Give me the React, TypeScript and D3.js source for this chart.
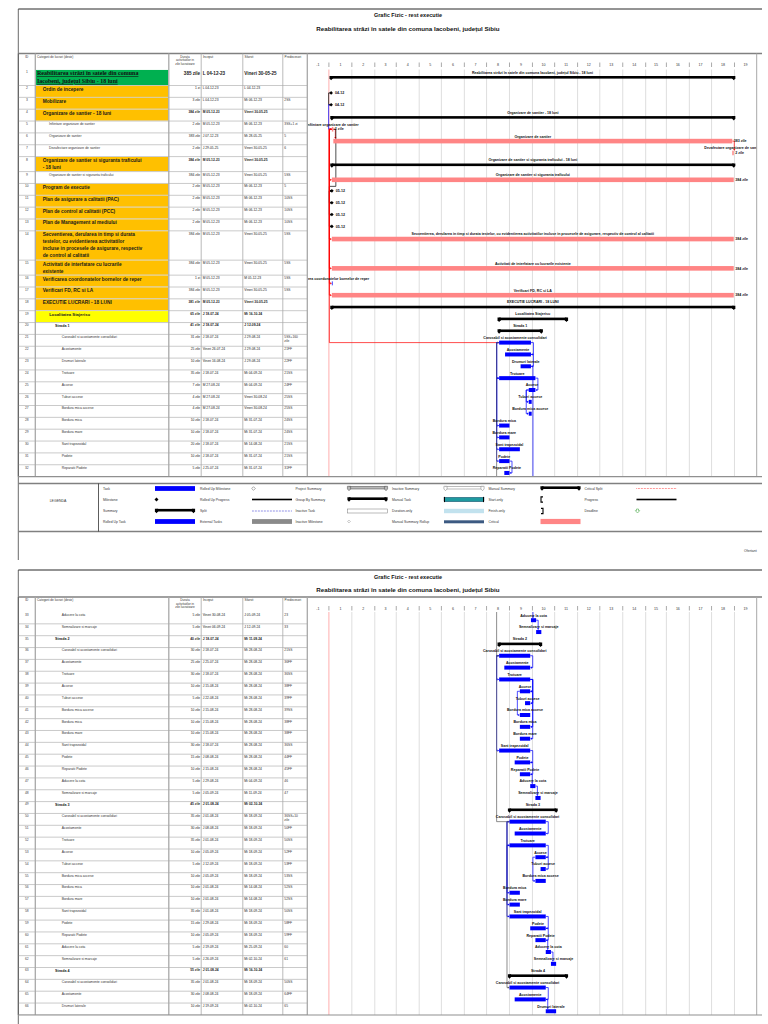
import { Fragment } from "react";
import * as d3 from "d3";

const SANS = "'Liberation Sans', Arial, sans-serif";
const SERIF = "'Liberation Serif', 'Times New Roman', serif";

const TITLE = "Grafic Fizic - rest executie";
const SUBTITLE = "Reabilitarea străzi în satele din comuna Iacobeni, județul Sibiu";
const FOOTER = "Ofertant";

const monthLabels = ["-1", "1", "2", "3", "4", "5", "6", "7", "8", "9", "10", "11", "12", "13", "14", "15", "16", "17", "18", "19"];

const colHeaders = ["ID", "Categorii de lucrari (deviz)", "Durata|activitatilor in|zile lucratoare", "Inceput", "Sfarsit", "Predecesori"];

// [ID, name ("|" = line break), durata, inceput, sfarsit, predecesori, stil]
// stil: fundal (g verde, o portocaliu, y galben, w alb) + bara (S sumar, M reper, C critic, T activitate)
const page1Rows = [
  ["1", "Reabilitarea străzi în satele din comuna|Iacobeni, județul Sibiu - 18 luni", "385 zile", "L 04-12-23", "Vineri 30-05-25", "", "gS"],
  ["2", "Ordin de incepere", "1 zi", "L 04-12-23", "L 04-12-23", "", "oM"],
  ["3", "Mobilizare", "3 zile", "L 04-12-23", "Mi 06-12-23", "2SS", "oM"],
  ["4", "Organizare de santier - 18 luni", "384 zile", "M 05-12-23", "Vineri 30-05-25", "", "oS"],
  ["5", "Infiintare organizare de santier", "2 zile", "M 05-12-23", "Mi 06-12-23", "3SS+1 zi", "wC"],
  ["6", "Organizare de santier", "383 zile", "J 07-12-23", "Mi 28-05-25", "5", "wC"],
  ["7", "Dezafectare organizare de santier", "2 zile", "J 29-05-25", "Vineri 30-05-25", "6", "wC"],
  ["8", "Organizare de santier si siguranta traficului|- 18 luni", "384 zile", "M 05-12-23", "Vineri 30-05-25", "", "oS"],
  ["9", "Organizare de santier si siguranta traficului", "384 zile", "M 05-12-23", "Vineri 30-05-25", "5SS", "wC"],
  ["10", "Program de executie", "2 zile", "M 05-12-23", "Mi 06-12-23", "5", "oM"],
  ["11", "Plan de asigurare a calitatii (PAC)", "2 zile", "M 05-12-23", "Mi 06-12-23", "10SS", "oM"],
  ["12", "Plan de control al calitatii (PCC)", "2 zile", "M 05-12-23", "Mi 06-12-23", "10SS", "oM"],
  ["13", "Plan de Management al mediului", "2 zile", "M 05-12-23", "Mi 06-12-23", "10SS", "oM"],
  ["14", "Secventierea, derularea in timp si durata|testelor, cu evidentierea activitatilor|incluse in procesele de asigurare, respectiv|de control al calitatii", "384 zile", "M 05-12-23", "Vineri 30-05-25", "5SS", "oC"],
  ["15", "Activitati de interfatare cu lucrarile|existente", "384 zile", "M 05-12-23", "Vineri 30-05-25", "5SS", "oC"],
  ["16", "Verificarea coordonatelor bornelor de reper", "1 zi", "M 05-12-23", "M 05-12-23", "5SS", "oT"],
  ["17", "Verificari FD, RC si LA", "384 zile", "M 05-12-23", "Vineri 30-05-25", "5SS", "oC"],
  ["18", "EXECUTIE LUCRARI - 18 LUNI", "381 zile", "M 05-12-23", "Vineri 30-05-25", "", "oS"],
  ["19", "Localitatea Stajerisu", "65 zile", "J 18-07-24", "Mi 16-10-24", "", "yS"],
  ["20", "Strada 1", "41 zile", "J 18-07-24", "J 12-09-24", "", "wS"],
  ["21", "Carosabil si acostamente consolidari", "31 zile", "J 18-07-24", "J 29-08-24", "5SS+160|zile", "wT"],
  ["22", "Acostamente", "25 zile", "Vineri 26-07-24", "J 29-08-24", "21FF", "wT"],
  ["23", "Drumuri laterale", "10 zile", "Vineri 16-08-24", "J 29-08-24", "22FF", "wT"],
  ["24", "Trotuare", "35 zile", "J 18-07-24", "Mi 04-09-24", "21SS", "wT"],
  ["25", "Accese", "7 zile", "M 27-08-24", "Mi 04-09-24", "24FF", "wT"],
  ["26", "Tuburi accese", "4 zile", "M 27-08-24", "Vineri 30-08-24", "25SS", "wT"],
  ["27", "Bordura mica accese", "4 zile", "M 27-08-24", "Vineri 30-08-24", "25SS", "wT"],
  ["28", "Bordura mica", "10 zile", "J 18-07-24", "Mi 31-07-24", "24SS", "wT"],
  ["29", "Bordura mare", "10 zile", "J 18-07-24", "Mi 31-07-24", "24SS", "wT"],
  ["30", "Sant trapezoidal", "20 zile", "J 18-07-24", "Mi 14-08-24", "21SS", "wT"],
  ["31", "Podete", "10 zile", "J 18-07-24", "Mi 31-07-24", "21SS", "wT"],
  ["32", "Reparatii Podete", "5 zile", "J 25-07-24", "Mi 31-07-24", "31FF", "wT"],
];

const page2Rows = [
  ["33", "Aducere la cota", "5 zile", "Vineri 30-08-24", "J 05-09-24", "23", "wT"],
  ["34", "Semnalizare si marcaje", "5 zile", "Vineri 06-09-24", "J 12-09-24", "33", "wT"],
  ["35", "Strada 2", "40 zile", "J 18-07-24", "Mi 11-09-24", "", "wS"],
  ["36", "Carosabil si acostamente consolidari", "30 zile", "J 18-07-24", "Mi 28-08-24", "21SS", "wT"],
  ["37", "Acostamente", "25 zile", "J 25-07-24", "Mi 28-08-24", "36FF", "wT"],
  ["38", "Trotuare", "30 zile", "J 18-07-24", "Mi 28-08-24", "36SS", "wT"],
  ["39", "Accese", "10 zile", "J 15-08-24", "Mi 28-08-24", "38FF", "wT"],
  ["40", "Tuburi accese", "5 zile", "J 22-08-24", "Mi 28-08-24", "39FF", "wT"],
  ["41", "Bordura mica accese", "10 zile", "J 15-08-24", "Mi 28-08-24", "39SS", "wT"],
  ["42", "Bordura mica", "10 zile", "J 15-08-24", "Mi 28-08-24", "38FF", "wT"],
  ["43", "Bordura mare", "10 zile", "J 15-08-24", "Mi 28-08-24", "38FF", "wT"],
  ["44", "Sant trapezoidal", "30 zile", "J 18-07-24", "Mi 28-08-24", "36SS", "wT"],
  ["45", "Podete", "15 zile", "J 08-08-24", "Mi 28-08-24", "44FF", "wT"],
  ["46", "Reparatii Podete", "10 zile", "J 15-08-24", "Mi 28-08-24", "45FF", "wT"],
  ["47", "Aducere la cota", "5 zile", "J 29-08-24", "Mi 04-09-24", "46", "wT"],
  ["48", "Semnalizare si marcaje", "5 zile", "J 05-09-24", "Mi 11-09-24", "47", "wT"],
  ["49", "Strada 3", "45 zile", "J 01-08-24", "Mi 02-10-24", "", "wS"],
  ["50", "Carosabil si acostamente consolidari", "35 zile", "J 01-08-24", "Mi 18-09-24", "36SS+10|zile", "wT"],
  ["51", "Acostamente", "30 zile", "J 08-08-24", "Mi 18-09-24", "50FF", "wT"],
  ["52", "Trotuare", "35 zile", "J 01-08-24", "Mi 18-09-24", "50SS", "wT"],
  ["53", "Accese", "10 zile", "J 05-09-24", "Mi 18-09-24", "52FF", "wT"],
  ["54", "Tuburi accese", "5 zile", "J 12-09-24", "Mi 18-09-24", "53FF", "wT"],
  ["55", "Bordura mica accese", "10 zile", "J 05-09-24", "Mi 18-09-24", "53SS", "wT"],
  ["56", "Bordura mica", "10 zile", "J 01-08-24", "Mi 14-08-24", "52SS", "wT"],
  ["57", "Bordura mare", "10 zile", "J 01-08-24", "Mi 14-08-24", "52SS", "wT"],
  ["58", "Sant trapezoidal", "35 zile", "J 01-08-24", "Mi 18-09-24", "50SS", "wT"],
  ["59", "Podete", "15 zile", "J 29-08-24", "Mi 18-09-24", "58FF", "wT"],
  ["60", "Reparatii Podete", "10 zile", "J 05-09-24", "Mi 18-09-24", "59FF", "wT"],
  ["61", "Aducere la cota", "5 zile", "J 19-09-24", "Mi 25-09-24", "60", "wT"],
  ["62", "Semnalizare si marcaje", "5 zile", "J 26-09-24", "Mi 02-10-24", "61", "wT"],
  ["63", "Strada 4", "55 zile", "J 01-08-24", "Mi 16-10-24", "", "wS"],
  ["64", "Carosabil si acostamente consolidari", "35 zile", "J 01-08-24", "Mi 18-09-24", "50SS", "wT"],
  ["65", "Acostamente", "30 zile", "J 08-08-24", "Mi 18-09-24", "64FF", "wT"],
  ["66", "Drumuri laterale", "10 zile", "J 19-09-24", "Mi 02-10-24", "65", "wT"],
];

// legend: 6 columns x 4 rows
const legendItems = [
  ["Task", "task"], ["Milestone", "milestone"], ["Summary", "summary"], ["Rolled Up Task", "task"],
  ["Rolled Up Milestone", "hollowDiamond"], ["Rolled Up Progress", "line"], ["Split", "dots"], ["External Tasks", "external"],
  ["Project Summary", "projSummary"], ["Group By Summary", "summary"], ["Inactive Task", "hollowBar"], ["Inactive Milestone", "smallDiamond"],
  ["Inactive Summary", "inactiveSummary"], ["Manual Task", "manual"], ["Duration-only", "durOnly"], ["Manual Summary Rollup", "rollup"],
  ["Manual Summary", "summary"], ["Start-only", "startOnly"], ["Finish-only", "finishOnly"], ["Critical", "critical"],
  ["Critical Split", "critDots"], ["Progress", "line"], ["Deadline", "deadline"],
];

const LEFT = 18.3;
const RIGHT = 762;
const COLS = [18.3, 35.3, 168.8, 201.2, 242.8, 282.8, 307.3];
const CHART_L = 307.3;
const CHART_R = 756.7;
const ROW_H = 11.85;
const PAGES = [
  { top: 9, title: 17, sub: 31, head: 53.5, rows: 69.5, bottom: 476.6 },
  { top: 570, title: 579, sub: 592, head: 597, rows: 612, bottom: 1015 },
];
const LEG_X = [103, 200, 295.5, 392, 488.5, 584.5];
const LEG_Y = [488.5, 499.5, 511, 521.5];
const BG: Record<string, string> = { g: "#00b050", o: "#ffc000", y: "#ffff00" };
const CRIT = "#ff8585";

const xTime = d3
  .scaleTime()
  .domain([new Date(2023, 10, 1), new Date(2025, 6, 1)])
  .range([306.7, CHART_R]);

type Task = {
  id: string;
  name: string[];
  dur: string;
  start: string;
  finish: string;
  pred: string[];
  bg: string;
  bar: string;
  page: number;
  y0: number;
  h: number;
  xs: number;
  xe: number;
  cy: number;
  half: number;
  group: string;
};

function parseDay(s: string) {
  const m = s.match(/(\d\d)-(\d\d)-(\d\d)$/)!;
  return new Date(2000 + +m[3], +m[2] - 1, +m[1]);
}

function buildTasks(): Task[] {
  let y = PAGES[0].rows;
  let group = "0";
  const all = [...page1Rows, ...page2Rows];
  return all.map(([id, name, dur, start, finish, pred, style], idx) => {
    const bg = style[0];
    const bar = style[1];
    const lines = name.split("|");
    const h = bg === "g" ? 16 : lines.length >= 4 ? 29.3 : lines.length === 2 ? 15 : ROW_H;
    if (bar === "S" && bg === "w") group = id;
    const s = parseDay(start);
    const f = d3.timeDay.offset(parseDay(finish), 1);
    const t: Task = {
      id, name: lines, dur, start, finish,
      pred: pred ? pred.split("|") : [],
      bg, bar,
      page: idx < page1Rows.length ? 0 : 1,
      y0: y, h,
      xs: xTime(s),
      xe: bar === "M" ? xTime(s) : xTime(f),
      cy: y + (bar === "M" ? 7.4 : bg === "g" ? 7.8 : 8.2),
      half: bar === "T" ? 2 : bar === "C" ? 2.3 : bar === "M" ? 1.8 : 1.3,
      group,
    };
    y += h;
    return t;
  });
}

type Link = { d: string; ax: number; ay: number; dir: string; color: string };

function makeLinks(tasks: Task[]): Link[] {
  const byId = new Map(tasks.map((t) => [t.id, t]));
  const out: Link[] = [];
  for (const t of tasks) {
    const m = (t.pred[0] ?? "").match(/^(\d+)(SS|FF|SF)?/);
    if (!m) continue;
    const p = byId.get(m[1]);
    if (!p) continue;
    const type = m[2] ?? "FS";
    const color =
      t.bar === "M" ? "#000" : p.bar === "C" ? "#ff0000" : p.group !== t.group ? "#5a5a5a" : "#0000ff";
    if (type === "SS") {
      const xv = Math.min(p.xs, t.xs) - 2.5;
      out.push({ d: `M${p.xs},${p.cy}H${xv}V${t.cy}H${t.xs - 1.6}`, ax: t.xs, ay: t.cy, dir: "r", color });
    } else if (type === "FF") {
      const xv = Math.max(p.xe, t.xe) + 2.5;
      out.push({ d: `M${p.xe},${p.cy}H${xv}V${t.cy}H${t.xe + 1.6}`, ax: t.xe, ay: t.cy, dir: "l", color });
    } else if (t.xs >= p.xe - 0.5) {
      const xv = t.xs + 2;
      const yEnd = t.cy - t.half;
      out.push({ d: `M${p.xe},${p.cy}H${xv}V${yEnd - 1.6}`, ax: xv, ay: yEnd, dir: "d", color });
    } else {
      const xr = p.xe + 2.5;
      const ym = t.cy - 4.5;
      out.push({
        d: `M${p.xe},${p.cy}H${xr}V${ym}H${t.xs - 2.5}V${t.cy}H${t.xs - 1.6}`,
        ax: t.xs, ay: t.cy, dir: "r", color,
      });
    }
  }
  return out;
}

function arrow(x: number, y: number, dir: string) {
  if (dir === "r") return `M${x},${y}L${x - 1.7},${y - 1.1}L${x - 1.7},${y + 1.1}Z`;
  if (dir === "l") return `M${x},${y}L${x + 1.7},${y - 1.1}L${x + 1.7},${y + 1.1}Z`;
  return `M${x},${y}L${x - 1.1},${y - 1.7}L${x + 1.1},${y - 1.7}Z`;
}

function diamond(cx: number, cy: number, r: number) {
  return `M${cx},${cy - r}L${cx + r},${cy}L${cx},${cy + r}L${cx - r},${cy}Z`;
}

function SummaryBar({ x0, x1, cy, fill, stroke }: { x0: number; x1: number; cy: number; fill: string; stroke?: string }) {
  const cap = (x: number) =>
    `${x - 1.6},${cy - 1.4} ${x + 1.6},${cy - 1.4} ${x + 1.6},${cy + 1.3} ${x},${cy + 3} ${x - 1.6},${cy + 1.3}`;
  return (
    <g fill={fill} stroke={stroke ?? "none"} strokeWidth={0.5}>
      <rect x={x0} y={cy - 1.3} width={Math.max(0, x1 - x0)} height={2.6} />
      <polygon points={cap(x0)} />
      <polygon points={cap(x1)} />
    </g>
  );
}

function Swatch({ kind, x0, y }: { kind: string; x0: number; y: number }) {
  const w = 40;
  switch (kind) {
    case "task":
      return <rect x={x0} y={y - 2.4} width={w} height={4.8} fill="#0000ff" />;
    case "milestone":
      return <path d={diamond(x0 + 1.5, y, 2)} fill="#000" />;
    case "summary":
      return <SummaryBar x0={x0 + 1.5} x1={x0 + w - 1.5} cy={y - 0.8} fill="#000" />;
    case "hollowDiamond":
      return <path d={diamond(x0 + 1.5, y, 1.8)} fill="#fff" stroke="#555" strokeWidth={0.5} />;
    case "smallDiamond":
      return <path d={diamond(x0 + 1.5, y, 1.4)} fill="#fff" stroke="#777" strokeWidth={0.4} />;
    case "line":
      return <rect x={x0} y={y - 0.8} width={w} height={1.6} fill="#000" />;
    case "dots":
      return <line x1={x0} x2={x0 + w} y1={y} y2={y} stroke="#3030d0" strokeWidth={0.9} strokeDasharray="0.6 0.9" />;
    case "critDots":
      return <line x1={x0} x2={x0 + w} y1={y} y2={y} stroke="#ff4040" strokeWidth={0.9} strokeDasharray="0.6 0.9" />;
    case "external":
      return <rect x={x0} y={y - 2.4} width={w} height={4.8} fill="#8a8a8a" />;
    case "projSummary":
      return <SummaryBar x0={x0 + 1.5} x1={x0 + w - 1.5} cy={y - 0.8} fill="#b8b8b8" stroke="#444" />;
    case "inactiveSummary":
      return <SummaryBar x0={x0 + 1.5} x1={x0 + w - 1.5} cy={y - 0.8} fill="#fff" stroke="#777" />;
    case "hollowBar":
      return <rect x={x0} y={y - 2} width={w} height={4} fill="#fff" stroke="#777" strokeWidth={0.5} />;
    case "manual":
      return (
        <g>
          <rect x={x0} y={y - 2.2} width={w} height={4.4} fill="#1e9aa0" stroke="#135" strokeWidth={0.4} />
          <rect x={x0} y={y - 2.6} width={1} height={5.2} fill="#000" />
          <rect x={x0 + w - 1} y={y - 2.6} width={1} height={5.2} fill="#000" />
        </g>
      );
    case "durOnly":
      return <rect x={x0} y={y - 2.2} width={w} height={4.4} fill="#c2e2ee" />;
    case "rollup":
      return <rect x={x0} y={y - 1.2} width={w} height={3} fill="#3c5a82" />;
    case "startOnly":
      return <path d={`M${x0 + 2.5},${y - 2.6}H${x0 + 0.5}V${y + 2.6}H${x0 + 2.5}`} fill="none" stroke="#000" strokeWidth={1.1} />;
    case "finishOnly":
      return <path d={`M${x0 + 0.5},${y - 2.6}H${x0 + 2.5}V${y + 2.6}H${x0 + 0.5}`} fill="none" stroke="#000" strokeWidth={1.1} />;
    case "critical":
      return <rect x={x0} y={y - 2.6} width={w} height={5.2} fill={CRIT} />;
    case "deadline":
      return <path d={`M${x0},${y - 2}h2v1.6h1.2l-2.2,2.4l-2.2,-2.4h1.2z`} fill="none" stroke="#2a9a2a" strokeWidth={0.5} />;
    default:
      return null;
  }
}

function TableRows({ tasks }: { tasks: Task[] }) {
  return (
    <g fontFamily={SANS} fill="#222">
      {tasks.map((t) => {
        const sum = t.bar === "S" || t.bg === "g";
        const big = t.bg === "g";
        const base = t.y0 + 3.9;
        const fs = big ? 4.6 : 3.3;
        const dy = big ? t.y0 + 5.2 : base;
        let nameEl;
        if (t.bg === "g") {
          nameEl = t.name.map((ln, i) => (
            <text key={i} x={37} y={t.y0 + 5.6 + i * 7.8} fontFamily={SERIF} fontWeight="bold" fontSize={6} textDecoration="underline" fill="#111">
              {ln}
            </text>
          ));
        } else if (t.bg === "o") {
          nameEl = t.name.map((ln, i) => (
            <text key={i} x={42.7} y={t.y0 + 5.4 + i * 7.0} fontWeight="bold" fontSize={4.8} fill="#1a1a1a">
              {ln}
            </text>
          ));
        } else if (t.bg === "y") {
          nameEl = (
            <text x={49.3} y={t.y0 + 4.8} fontWeight="bold" fontSize={4.2}>
              {t.name[0]}
            </text>
          );
        } else if (t.bar === "S") {
          nameEl = (
            <text x={55} y={t.y0 + 4.2} fontWeight="bold" fontSize={3.7}>
              {t.name[0]}
            </text>
          );
        } else {
          nameEl = (
            <text x={t.bar === "C" ? 49 : 61.7} y={base} fontSize={3.4} fill="#333">
              {t.name[0]}
            </text>
          );
        }
        return (
          <g key={t.id}>
            {BG[t.bg] && (
              <rect x={COLS[1] + 0.6} y={t.y0 + 0.4} width={COLS[2] - COLS[1] - 1.2} height={t.h - 0.8} fill={BG[t.bg]} />
            )}
            <text x={(COLS[0] + COLS[1]) / 2} y={base} fontSize={3.3} textAnchor="middle" fill="#444">
              {t.id}
            </text>
            {nameEl}
            <text x={COLS[3] - 1} y={dy} fontSize={fs} fontWeight={sum ? "bold" : "normal"} textAnchor="end">
              {t.dur}
            </text>
            <text x={COLS[3] + 1.5} y={dy} fontSize={fs} fontWeight={sum ? "bold" : "normal"}>
              {t.start}
            </text>
            <text x={COLS[4] + 1.5} y={dy} fontSize={fs} fontWeight={sum ? "bold" : "normal"}>
              {t.finish}
            </text>
            {t.pred.map((p, i) => (
              <text key={i} x={COLS[5] + 1.5} y={base + i * 3.7} fontSize={3.3} fill="#333">
                {p}
              </text>
            ))}
            <line x1={COLS[0]} x2={COLS[6]} y1={t.y0 + t.h} y2={t.y0 + t.h} stroke="#bdbdbd" strokeWidth={0.8} />
          </g>
        );
      })}
    </g>
  );
}

function GanttRows({ tasks, links }: { tasks: Task[]; links: Link[] }) {
  return (
    <g fontFamily={SANS}>
      {links.map((l, i) => (
        <g key={i}>
          <path d={l.d} fill="none" stroke={l.color} strokeWidth={0.7} />
          <path d={arrow(l.ax, l.ay, l.dir)} fill={l.color} />
        </g>
      ))}
      {tasks.map((t) => {
        const mid = (t.xs + t.xe) / 2;
        const label = t.name.join(" ");
        const ly = t.y0 + (t.bg === "g" ? 4 : 4.6);
        if (t.bar === "M") {
          return (
            <g key={t.id}>
              <path d={diamond(t.xs, t.cy, 1.8)} fill="#000" />
              <text x={t.xs + 4} y={t.cy + 1.3} fontSize={3.6} fontWeight="bold" fill="#111">
                {t.start.slice(-8, -3)}
              </text>
            </g>
          );
        }
        return (
          <g key={t.id}>
            {t.bar === "S" && <SummaryBar x0={t.xs} x1={t.xe} cy={t.cy} fill="#000" />}
            {t.bar === "T" && <rect x={t.xs} y={t.cy - 2} width={t.xe - t.xs} height={4} fill="#0000ff" />}
            {t.bar === "C" && <rect x={t.xs} y={t.cy - 2.3} width={t.xe - t.xs} height={4.6} fill={CRIT} />}
            <text x={mid} y={ly} fontSize={3.6} fontWeight="bold" textAnchor="middle" fill="#111">
              {label}
            </text>
            {t.bar === "C" && (
              <text x={t.xe + 1.5} y={t.cy + 1.2} fontSize={3.6} fontWeight="bold" fill="#111">
                {t.dur}
              </text>
            )}
          </g>
        );
      })}
    </g>
  );
}

export default function App() {
  const tasks = buildTasks();
  const last1 = tasks[page1Rows.length - 1];
  const p1End = last1.y0 + last1.h;
  const shifts = [0, PAGES[1].rows - p1End];
  const links = makeLinks(tasks);
  const months = d3.timeMonth.range(xTime.domain()[0], xTime.domain()[1]);
  const monthEdges = [...months, xTime.domain()[1]];

  return (
    <div style={{ position: "absolute", left: 0, top: 0 }}>
      <svg width={768} height={1024} viewBox="0 0 768 1024" style={{ display: "block", background: "#fff" }}>
        <defs>
          {PAGES.map((pg, i) => (
            <Fragment key={i}>
              <clipPath id={`tbl${i}`}>
                <rect x={COLS[0]} y={pg.rows} width={COLS[6] - COLS[0]} height={pg.bottom - pg.rows} />
              </clipPath>
              <clipPath id={`cht${i}`}>
                <rect x={CHART_L} y={pg.rows} width={CHART_R - CHART_L} height={pg.bottom - pg.rows} />
              </clipPath>
            </Fragment>
          ))}
        </defs>

        {PAGES.map((pg, i) => {
          const own = tasks.filter((t) => t.page === i);
          return (
            <g key={i} fontFamily={SANS}>
              {/* frame and titles */}
              <line x1={LEFT} x2={RIGHT} y1={pg.top} y2={pg.top} stroke="#111" strokeWidth={0.9} />
              <line x1={LEFT} x2={LEFT} y1={pg.top} y2={i === 0 ? 560 : 1024} stroke="#444" strokeWidth={0.8} />
              <text x={408} y={pg.title} fontSize={5.5} fontWeight="bold" textAnchor="middle" fill="#111">
                {TITLE}
              </text>
              <text x={408} y={pg.sub} fontSize={6.2} fontWeight="bold" textAnchor="middle" fill="#111">
                {SUBTITLE}
              </text>
              <line x1={LEFT} x2={RIGHT} y1={pg.head} y2={pg.head} stroke="#808080" strokeWidth={1.6} />

              {/* column headers */}
              {colHeaders.map((h, c) => {
                const lines = h.split("|");
                const center = c === 0 || c === 2;
                const hx = center ? (COLS[c] + COLS[c + 1]) / 2 : COLS[c] + 1.8;
                return lines.map((ln, k) => (
                  <text key={`${c}-${k}`} x={hx} y={pg.head + 4 + k * 3.6} fontSize={3.1} fill="#333" textAnchor={center ? "middle" : "start"}>
                    {ln}
                  </text>
                ));
              })}

              {/* timescale */}
              {monthLabels.map((lab, k) => (
                <text
                  key={lab}
                  x={(xTime(monthEdges[k]) + xTime(monthEdges[k + 1])) / 2}
                  y={pg.head + 12.5}
                  fontSize={3.6}
                  textAnchor="middle"
                  fill="#333"
                >
                  {lab}
                </text>
              ))}
              {months.slice(1).map((m) => (
                <line key={+m} x1={xTime(m)} x2={xTime(m)} y1={pg.head + 9} y2={pg.head + 13.5} stroke="#555" strokeWidth={0.5} />
              ))}

              {/* month gridlines */}
              {months.slice(1).map((m, k) => (
                <line
                  key={`g${+m}`}
                  x1={xTime(m)}
                  x2={xTime(m)}
                  y1={pg.rows}
                  y2={pg.bottom}
                  stroke={k === 0 ? "#ff9a9a" : "#d6d6d6"}
                  strokeWidth={0.8}
                />
              ))}

              {/* table and gantt contents, shifted for this page */}
              <g clipPath={`url(#tbl${i})`}>
                <g transform={`translate(0,${shifts[i]})`}>
                  <TableRows tasks={own} />
                </g>
              </g>
              <g clipPath={`url(#cht${i})`}>
                <g transform={`translate(0,${shifts[i]})`}>
                  <GanttRows tasks={own} links={links} />
                </g>
              </g>

              {/* column dividers */}
              {COLS.map((cx, c) => (
                <line
                  key={`c${c}`}
                  x1={cx}
                  x2={cx}
                  y1={pg.head}
                  y2={pg.bottom}
                  stroke={c === 0 ? "#555" : "#a8a8a8"}
                  strokeWidth={c === 1 || c === 2 || c === 6 ? 1.3 : 0.8}
                />
              ))}
              <line x1={CHART_R} x2={CHART_R} y1={pg.head} y2={pg.bottom} stroke="#a8a8a8" strokeWidth={1} />
              <line x1={LEFT} x2={RIGHT} y1={pg.bottom} y2={pg.bottom} stroke="#909090" strokeWidth={1.1} />
            </g>
          );
        })}

        {/* legend */}
        <g fontFamily={SANS}>
          <line x1={LEFT} x2={RIGHT} y1={483.5} y2={483.5} stroke="#808080" strokeWidth={1.6} />
          <line x1={LEFT} x2={RIGHT} y1={531.5} y2={531.5} stroke="#808080" strokeWidth={1.6} />
          <line x1={98.5} x2={98.5} y1={483.5} y2={531.5} stroke="#333" strokeWidth={0.8} />
          <text x={58} y={501.5} fontSize={3.5} textAnchor="middle" fill="#333">
            LEGENDA
          </text>
          {legendItems.map(([label, kind], k) => {
            const c = Math.floor(k / 4);
            const r = k % 4;
            return (
              <g key={label}>
                <text x={LEG_X[c]} y={LEG_Y[r] + 1.2} fontSize={3.4} fill="#333">
                  {label}
                </text>
                <Swatch kind={kind} x0={LEG_X[c] + 52} y={LEG_Y[r]} />
              </g>
            );
          })}
          <text x={CHART_R} y={552} fontSize={3.5} textAnchor="end" fill="#333">
            {FOOTER}
          </text>
        </g>
      </svg>
    </div>
  );
}
